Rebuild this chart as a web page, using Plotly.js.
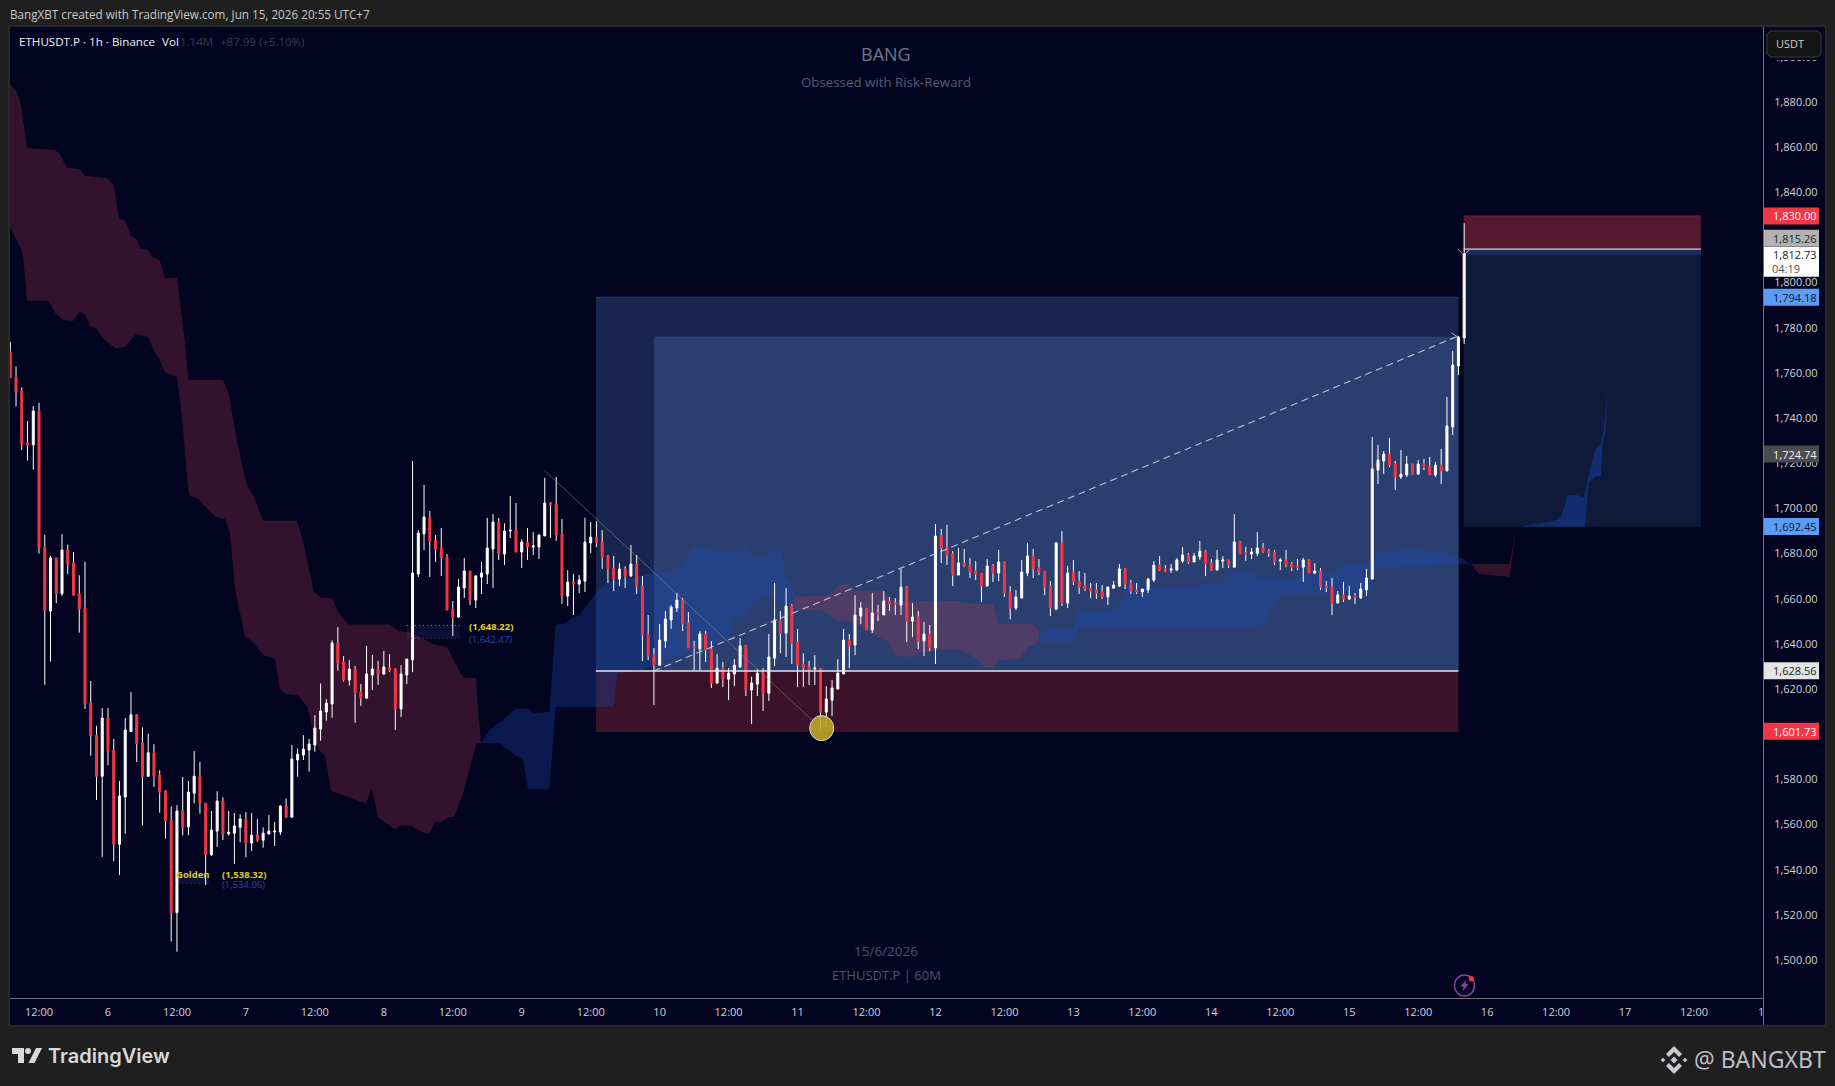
<!DOCTYPE html>
<html>
<head>
<meta charset="utf-8">
<script src="https://cdn.plot.ly/plotly-3.0.1.min.js"></script>
<style>html,body{margin:0;padding:0;background:#1f1f1f;overflow:hidden}#chart{width:1835px;height:1086px}</style>
</head>
<body>
<div id="chart"></div>
<script>
// Hours are counted from 5 June 12:00; the first candle is at hour -5.
const firstHour = -5;
const direction = ["ddddu","ddudu","ddddd","duddu","uuddu","ddddu","duudd","uuduu","ududu","uuudu","uuuuu","uuddu","dduud","udduu","uuudd","ddduu","duuuu","duudu","duuud","ddudu","uuddd","dudud","ddduu","uuddd","uddud","uuudu","uduud","udddd","uduuu","uduud","ududd","ududu","duddd","udddd","ududd","uuudd","ddudu","ddddd","duuud","dduuu","dduuu","duudd","uudud","duudd","duddd","ududd","dudud","uuuuu","dduud","uddud","uuuu"].join("");
const highs = [1773.7,1762.9,1753.6,1738.7,1745.4,
1746.8,1688.3,1679,1678.1,1688.6,1683.9,1680.7,1670.4,1676.5,1623.6,
1603.7,1611.6,1611.6,1597.9,1579.3,1607.2,1618.7,1608.9,1603.1,1600.2,
1595.6,1584,1575.3,1568,1568.6,1581.1,1579.3,1592.6,1587.7,1569.5,
1566,1574.8,1572.1,1566,1565.1,1564.6,1565.5,1565.1,1562.4,1558.8,
1564.2,1561.1,1568.6,1571.6,1595.2,1593.7,1599.6,1597.9,1608.5,1622.5,
1615.6,1641.6,1647.5,1634.6,1632.9,1630.2,1622.2,1639.1,1635.1,1632.4,
1636.9,1635.5,1629.3,1630.6,1633.3,1721,1690.4,1710.4,1698.9,1688.2,
1691.3,1679.8,1659,1668.7,1678,1672.3,1670.5,1676.3,1695.8,1697.5,
1695.8,1693.4,1705.5,1702.4,1686.3,1691.3,1689.5,1688.7,1713.5,1702.8,
1713.9,1695.3,1672.7,1671,1670.5,1695.8,1694,1694.4,1690.4,1679.4,
1678.9,1675.8,1674.3,1683.8,1679.4,1670,1652.8,1638.2,1648.8,1654.6,
1657.2,1662.5,1660.3,1654.1,1641.3,1645.7,1645.7,1641.3,1635.5,1632,
1629.3,1633.3,1642.6,1639.5,1625.5,1628.9,1629.3,1644.4,1667,1654.6,
1664.7,1657.7,1646.6,1635.9,1632.4,1635.1,1629.3,1621.3,1624,1633.3,
1646.6,1644.4,1661.6,1658.6,1655.9,1662.5,1657.2,1663.4,1660.8,1660.3,
1673.2,1665.6,1658.1,1654.6,1649.7,1648.4,1693.1,1690.9,1692.7,1681.1,
1682.5,1682,1678,1676.7,1671.4,1677.6,1675.4,1681.6,1676.6,1665.6,
1663.9,1677.1,1684.7,1682,1677.6,1672.3,1667.8,1685.1,1690,1674.5,
1677.1,1672.3,1671.4,1667,1667,1666.1,1665.2,1667.8,1675.4,1673.6,
1668.3,1667,1664.3,1669.2,1676.7,1678.9,1674.9,1675.4,1678,1682.9,
1680.3,1680.3,1685.6,1681.6,1677.6,1681.6,1678.9,1677.2,1697.5,1685.6,
1683,1682.5,1689.6,1684.7,1682,1681.6,1678,1681.6,1676.3,1677.6,
1678,1677.6,1675.8,1673.6,1667.8,1669.2,1663.4,1667.4,1665.7,1662.5,
1667,1673.2,1731.6,1728.1,1725.4,1731.2,1721,1725.9,1723.2,1719.7,
1721.4,1721.9,1722.8,1720.6,1726.3,1749.3,1769.7,1776.4,1826.3];
const bodyTops = [1769.3,1758.1,1752,1729.1,1743.1,
1743.1,1682.8,1678.1,1678.1,1681.6,1681.6,1675.8,1662.2,1655.9,1613.8,
1599.6,1607.2,1607.2,1593,1572.7,1601.9,1608.6,1608.6,1596.1,1591.8,
1591.8,1581.9,1574.8,1561.8,1566,1566,1574.4,1581.4,1581.4,1569.5,
1557.6,1570.4,1570.4,1556.6,1559.4,1562.5,1562.5,1555.3,1555.4,1556.2,
1557.1,1557.1,1568.2,1568.2,1589,1591.2,1593.4,1595.7,1602.7,1610.3,
1613.8,1640.4,1640.4,1632,1628.9,1628.9,1618.7,1626.7,1628.9,1628.9,
1629.8,1629.8,1628.9,1626.7,1633.3,1671.4,1689.1,1696.2,1696.2,1686,
1682.5,1678.5,1655.5,1665.2,1672.3,1672.3,1670.1,1671.4,1682.5,1694,
1694,1690,1690.4,1690.4,1685.1,1685.1,1683.4,1688.2,1702.4,1702.4,
1701.9,1688.7,1667.4,1667.4,1668.3,1685.1,1687.3,1687.3,1685.1,1678.9,
1673.6,1673.2,1673.2,1675.4,1675.4,1665.6,1644.4,1635.1,1641.7,1651,
1656.3,1659.4,1659.4,1649.3,1638.8,1644.4,1644.4,1637.7,1629.3,1629.3,
1627.1,1630.6,1639.1,1639,1622.7,1627.1,1627.1,1634.2,1650.6,1650.6,
1656.8,1656.8,1640.8,1631.1,1629.8,1629.3,1629.3,1615.6,1620.5,1627.1,
1641.7,1641.7,1652.8,1655.9,1655.9,1653.7,1653.7,1659,1659,1658.1,
1665.2,1665.2,1651.9,1651.9,1644.4,1644.4,1687.8,1687.8,1682.9,1679.8,
1675.8,1675.8,1674.9,1672.3,1671.4,1674.5,1674.5,1676.3,1676.3,1663,
1660.8,1671.8,1678.9,1678.9,1673.6,1672.3,1665.6,1684.7,1684.7,1671.4,
1671.8,1667.8,1665.6,1664.7,1663.9,1663,1665.2,1666.1,1673.2,1673.2,
1667,1663.9,1664.3,1668.7,1674.9,1674.9,1673.2,1673.2,1677.2,1679.4,
1679.4,1678.9,1681.1,1681.1,1675.8,1677.2,1677.2,1677.2,1685.1,1685.1,
1680.3,1680.7,1682.5,1682.5,1681.2,1680.7,1677.2,1677.2,1675.4,1674.5,
1677.2,1677.2,1672.3,1672.3,1665.6,1665.2,1661.7,1661.7,1661.2,1661.2,
1664.3,1669.2,1717.5,1721.4,1724.1,1724.1,1719.7,1715.2,1719.7,1719.7,
1719.7,1719.7,1718.8,1719.2,1719.2,1736.5,1763.5,1775.9,1812.73];
const bodyBottoms = [1757.8,1751.5,1728.4,1728,1728.2,
1682.7,1654.6,1654.6,1662.3,1662.2,1675.3,1661.6,1655.5,1613.5,1599.3,
1581.4,1581.4,1592.6,1551.3,1551.3,1572.2,1601.2,1595.8,1581.4,1581.4,
1581.4,1574.4,1561.8,1521,1521,1558.8,1559,1573.9,1569.4,1546.8,
1546.6,1557.1,1555.9,1555.9,1556.2,1558.8,1551.8,1551.8,1553.1,1553.1,
1555.8,1556.7,1556.7,1563.3,1563.3,1588.6,1590.8,1593,1595.2,1602.3,
1609.8,1613.4,1631.5,1624,1624,1618.2,1616,1616,1626.2,1626.7,
1626.7,1628.4,1611.2,1611.2,1626.2,1632.9,1671,1688.7,1685.6,1682,
1678,1655,1651.9,1651.9,1664.8,1659.4,1659.4,1669.6,1671,1682,
1680,1679.8,1690,1680.7,1680.7,1682.9,1682.9,1682.9,1687.8,1701.9,
1688.2,1661.2,1661.2,1666.5,1666.5,1667.8,1684.7,1684.7,1678.5,1673.2,
1668.7,1668.7,1670.1,1670.1,1665.2,1643.9,1634.6,1630.6,1630.6,1641.3,
1650.6,1655.9,1648.8,1638.2,1638.2,1637.7,1637.3,1622.7,1622.7,1624.4,
1624.4,1626.7,1629.8,1619.6,1619.6,1622.2,1618.2,1618.2,1633.7,1644.8,
1644.8,1640.4,1630.6,1629.3,1628.4,1628.9,1609.8,1609.8,1615.1,1620,
1626.7,1639,1639.5,1652.3,1646.2,1646.2,1653.2,1652.8,1657.7,1657.7,
1657.2,1650.1,1650.1,1641.3,1641.3,1638.2,1638.2,1682.5,1679.4,1670.5,
1670.5,1674.5,1671.8,1670.9,1665.6,1665.6,1671.4,1671.4,1662.5,1655.9,
1655.9,1660.3,1671.4,1673.2,1671.8,1665.2,1655.9,1655.4,1658.1,1658.1,
1667.4,1665.2,1664.3,1663.4,1662.5,1660.8,1660.8,1664.7,1665.6,1666.5,
1663.4,1663,1663,1663.9,1668.3,1672.7,1672.3,1672.7,1672.7,1676.7,
1676.3,1676.3,1678.5,1675.4,1672.7,1672.7,1676.7,1674.9,1674,1679.8,
1679.8,1679.8,1680.1,1680.7,1680.3,1676.3,1676.7,1674.9,1674,1674,
1674,1671.4,1671.4,1665.2,1664.8,1658.1,1658.1,1659.9,1659.9,1660.8,
1660.4,1663.9,1668.7,1717,1721,1719.2,1713.9,1713.9,1714.8,1715.2,
1715.2,1718.3,1714.8,1714.8,1716.6,1716.6,1736.1,1763.1,1775.5];
const lows = [1757.8,1745.2,1725.9,1721.2,1717.2,
1680,1621.9,1632.2,1658.1,1661.3,1670.9,1661.6,1645,1611.2,1590.5,
1570.9,1545.7,1586.3,1543.8,1537.7,1556,1601.2,1587.7,1559.5,1581.1,
1576.7,1565.3,1553.8,1508.2,1503.7,1555.2,1555.3,1569.4,1564.8,1533.3,
1546.1,1550.1,1553.1,1555.2,1542.6,1552.2,1545.5,1548.3,1552.4,1549.8,
1555.8,1550.5,1555.4,1562.9,1562.9,1581.2,1588.6,1583.4,1592.3,1597.1,
1606,1607.3,1628.1,1623.3,1621.5,1605.1,1612.6,1615.6,1619.6,1621.8,
1626.2,1627.5,1601.9,1607.6,1622.2,1627.5,1669.6,1681.6,1669.6,1676.3,
1670.1,1655,1643.5,1651.5,1660.3,1657.2,1655.9,1662.1,1666.5,1664.8,
1677.2,1674.9,1686.9,1680.7,1673.6,1677.2,1679.4,1677.6,1687.8,1686.9,
1685.6,1657.7,1656.8,1652.8,1662.5,1663,1680.2,1682.9,1673.2,1667,
1663.4,1665.6,1664.8,1669.6,1662.1,1632.4,1632.9,1612.9,1630.6,1638.2,
1646.6,1654.1,1645.7,1638.2,1628.4,1628.4,1632,1620.5,1622.2,1620.9,
1615.1,1621.3,1629.3,1616.9,1604.5,1616.9,1610.3,1614.7,1630.2,1635.9,
1634.2,1631.1,1620.9,1620.9,1621.8,1621.8,1601.9,1603.2,1608,1620,
1626.7,1629.3,1635.1,1648.8,1646.2,1644.8,1650.1,1652.8,1654.6,1652.8,
1652.8,1640.8,1643,1637.7,1634.6,1636.8,1631.1,1675.8,1674.9,1665.6,
1670.5,1674,1669.2,1668.3,1658.6,1665.6,1667.4,1667.8,1660.8,1651,
1655,1660.3,1670,1669.2,1670.5,1661.6,1652.3,1655,1656.8,1655.9,
1666.1,1662.1,1663.4,1660.3,1659.9,1659.9,1657.2,1664.7,1665.2,1664.3,
1662.1,1662.1,1660.8,1662.5,1667.4,1672.3,1671.8,1671.4,1672.3,1675.8,
1675.4,1676.3,1677.2,1670,1672.3,1672.7,1673.6,1673.6,1674,1679.8,
1676.7,1677.6,1678.9,1680.3,1678.5,1674.9,1672.7,1674,1672.3,1672.7,
1667.4,1671.4,1671,1663.9,1663,1652.8,1658.1,1658.6,1659.4,1657.7,
1659.9,1661.2,1668.7,1710.8,1715.2,1718.3,1708.2,1713,1713.9,1714.8,
1714.8,1717,1714.8,1713.9,1710.8,1716.6,1732.5,1759.1,1772.8];

// Ichimoku cloud bands: [hour, price] read along each edge
const redCloud1Upper = [[-5.05,1888],[-4,1885.3],[-3.2,1879.6],[-2.1,1859.6],[2.8,1858.7],[3.5,1857.4],[4.9,1850.8],[7,1850.3],[8,1847.2],[11.8,1846.3],[13,1843.2],[13.9,1828.2],[14.9,1827.7],[16,1820.7],[16.9,1819.3],[17.7,1814.9],[19,1814.5],[19.7,1811.4],[21,1810],[21.9,1802],[24,1802],[25.2,1777.7],[26,1756.9],[32,1756.9],[33,1751.1],[34.4,1730.3],[36,1711.7],[37.6,1703.7],[39,1694.6],[44.9,1694.6],[46.1,1683.8],[47.8,1663.2],[49.1,1660.3],[51,1660.3],[52,1654.1],[53.8,1648.6],[61,1648.6],[62.6,1645.7],[64.7,1645],[67.2,1641.7],[68.9,1639.5],[71,1638.8],[73.4,1626.7],[74.1,1624.9],[76,1624.9],[76.9,1596.1]];
const redCloud1Lower = [[-5.05,1824.6],[-2.8,1813.1],[-2.1,1791.9],[1.7,1791.9],[2.8,1786.5],[4.2,1783.4],[5.9,1783],[7,1787],[8,1786.1],[9,1780.3],[9.9,1779.9],[11.1,1775.5],[13.2,1771],[14.9,1771.5],[16.9,1777.2],[19,1775.9],[19.7,1771.5],[21,1765.7],[21.9,1760.4],[24,1758.2],[24.9,1740.5],[25.6,1718.3],[26.1,1705.9],[27.7,1704.2],[30.7,1696.2],[32.4,1695.3],[33.2,1689.6],[34.1,1664.8],[35.8,1643.5],[37.2,1640.8],[39,1635.1],[41.1,1633.3],[41.9,1620],[42.9,1617.8],[45.1,1617.4],[46.8,1611.9],[47.5,1602.7],[48.5,1593.7],[49.8,1590.3],[50.8,1575],[56.9,1569.3],[57.9,1576.2],[59,1563.3],[61.9,1557.8],[63,1559.8],[64.7,1559.4],[67.2,1556],[67.9,1556],[68.9,1561.1],[69.9,1561],[71.3,1563.3],[72.2,1563.3],[73.7,1573.1],[75.1,1586.4],[76.1,1596.1],[76.9,1596.1]];
const blueCloud1Upper = [[76.9,1596.1],[78.5,1601.9],[80.9,1606.9],[83,1611.2],[85.1,1611.4],[86.1,1609.4],[88.8,1609.8],[89.9,1648.4],[91.5,1649.2],[92.9,1651.9],[94.1,1652.8],[95.3,1657.2],[97.1,1663],[98.8,1667],[100.2,1667.9],[103.3,1669.2],[106.8,1671.4],[108.6,1671.8],[110.3,1673.2],[112,1673.6],[113.4,1681.6],[114.8,1683.8],[116.9,1681.1],[122,1680.7],[123,1682.9],[124,1678.5],[126.1,1678.5],[127.5,1681.1],[129.1,1680.7],[130,1668.3],[131.1,1667],[131.4,1661.6]];
const blueCloud1Lower = [[76.9,1596.1],[80,1596.1],[83.3,1589.9],[84.2,1589.5],[85.1,1575.5],[88.8,1575.5],[89.9,1612.2],[99.9,1612.2],[100.7,1627.1],[105.2,1628.4],[108.9,1632.9],[113.4,1636],[118.9,1640.4],[120.3,1643.2],[120.7,1651.5],[123,1652.8],[124,1657.2],[125.1,1659.9],[127.2,1660.9],[131.4,1656.5]];
const redCloud2Upper = [[131.4,1661.6],[132,1660.9],[137.4,1661.3],[139.2,1666],[140.9,1666.9],[142,1663.6],[147.1,1663.6],[148.2,1659.4],[151.5,1659],[159.9,1659],[160.9,1658.1],[166,1657.7],[167,1648.8],[172.9,1648.8],[174,1646.1],[174.1,1641.7]];
const redCloud2Lower = [[131.4,1656.5],[132,1655],[136.1,1655],[138.8,1650.6],[141.6,1649.7],[145.8,1643.2],[147.8,1641],[148.9,1635.1],[151.9,1634.2],[153.3,1636],[156.8,1637.3],[160.2,1637.7],[163,1633.7],[164.7,1629.3],[166,1629.3],[167,1632.9],[170.5,1633.3],[172.2,1638.8],[174,1641]];
const blueCloud2Upper = [[174.1,1643.2],[175.5,1647],[179.7,1645.8],[180.8,1654.6],[187.2,1655],[188.6,1659.4],[189.5,1667.9],[190.3,1668.3],[192.8,1664.8],[202,1665.2],[203.2,1666.5],[206,1667],[207,1671.5],[211.2,1671.8],[211.9,1669.2],[218.9,1668.7],[219.9,1670.5],[225.5,1671.4],[227.2,1675.4],[229.3,1675.8],[232.1,1675.8],[233,1680.7],[235.9,1680.7],[236.8,1682],[240.8,1682.5],[242,1680.3],[243.7,1681.6],[245.8,1679],[247.6,1678.1],[249.1,1675.4]];
const blueCloud2Lower = [[174.1,1641],[179.9,1641],[180.9,1647.5],[212.1,1647.5],[213.6,1649.7],[215,1658.1],[216.2,1660.8],[218.2,1662.1],[229.8,1662.1],[231.6,1662.5],[232.4,1669.6],[233,1674.1],[245.1,1674.5],[246.9,1675.3],[249.1,1675.3]];
const redCloud3Upper = [[249.1,1675.4],[255.9,1675.4],[257,1690.4]];
const redCloud3Lower = [[249.1,1675.4],[250.6,1671],[252.7,1670.5],[255.9,1669.6],[257,1690.4]];
const blueCloud3Upper = [[258.4,1692.2],[261.8,1693.7],[264.3,1694.9],[265,1697.1],[266,1705.9],[267.6,1705.9],[268.8,1704.7],[270.7,1725.9],[271.8,1729],[272.2,1733.4],[272.7,1745],[272.9,1753.3]];
const blueCloud3Lower = [[258.4,1691.9],[269,1691.9],[269.7,1711.3],[270.7,1713.9],[271.8,1714.8],[272.1,1729],[272.6,1733.4],[272.85,1745],[272.9,1753.3]];

const yTickValues = [1500,1520,1540,1560,1580,1600,1620,1640,1660,1680,1700,1720,1740,1760,1780,1800,1820,1840,1860,1880,1900];
const xTickHours = [0,12,24,36,48,60,72,84,96,108,120,132,144,156,168,180,192,204,216,228,240,252,264,276,288];
const xTickLabels = ["12:00","6","12:00","7","12:00","8","12:00","9","12:00","10","12:00","11","12:00","12","12:00","13","12:00","14","12:00","15","12:00","16","12:00","17","12:00"];

// Price tags shown on the axis
const entryLevel = 1628.56, stopLevel = 1601.73, outerTop = 1794.18;
const shortTop = 1830, shortEntry = 1815.26, shortFill = 1812.73, shortBottom = 1692.45, midLevel = 1724.74;
const yellowHigh = 1648.22, blueLow = 1642.47, goldenHigh = 1538.32, goldenLow = 1534.06;
// Zone edges
const zoneEntry = 1628, zoneStop = 1601, zoneOuterTop = 1793.5, zoneInnerTop = 1776;
const zoneShortTop = 1829.5, zoneShortEntry = 1814.8, zoneShortFill = 1812.3, zoneShortBottom = 1691.9;

// ------------ geometry helpers (page pixels to paper fractions)
const L=10,T=27,W=1753,H=971,YMAX=1913.2,YMIN=1483.2,XMIN=-5.05,XMAX=300;
const fx=p=>(p-L)/W, fy=p=>1-(p-T)/H, py=v=>T+(YMAX-v)*H/(YMAX-YMIN);
const fmt=v=>v.toLocaleString('en-US',{minimumFractionDigits:2,maximumFractionDigits:2});
const bg='#03041f';
const F='"Open Sans", sans-serif';

const hours = highs.map((_,i)=>firstHour+i);
const ups=[],downs=[];
hours.forEach((_,i)=>{(direction[i]==='u'?ups:downs).push(i);});
const pick=(a,idx)=>idx.map(i=>a[i]);

function band(up,lo,color){
  const pts=up.concat(lo.slice().reverse());
  return {type:'scatter',mode:'lines',x:pts.map(p=>p[0]),y:pts.map(p=>p[1]),fill:'toself',fillcolor:color,line:{width:0},hoverinfo:'skip',showlegend:false,xaxis:'x',yaxis:'y'};
}
const RED='rgba(175,58,85,0.28)',BLUE='rgba(25,75,185,0.32)';
const candleBase={type:'candlestick',xaxis:'x2',yaxis:'y2',hoverinfo:'skip',showlegend:false};
const traces=[
  band(redCloud1Upper,redCloud1Lower,RED),
  band(blueCloud1Upper,blueCloud1Lower,BLUE),
  band(redCloud2Upper,redCloud2Lower,RED),
  band(blueCloud2Upper,blueCloud2Lower,BLUE),
  band(redCloud3Upper,redCloud3Lower,RED),
  band(blueCloud3Upper,blueCloud3Lower,'rgba(25,75,185,0.42)'),
  Object.assign({},candleBase,{ // white wicks of the falling candles
    x:pick(hours,downs),open:downs.map(i=>(bodyTops[i]+bodyBottoms[i])/2),close:downs.map(i=>(bodyTops[i]+bodyBottoms[i])/2),
    high:pick(highs,downs),low:pick(lows,downs),
    increasing:{line:{color:'#ffffff',width:1},fillcolor:'#ffffff'},decreasing:{line:{color:'#ffffff',width:1},fillcolor:'#ffffff'}}),
  Object.assign({},candleBase,{ // rising candles
    x:pick(hours,ups),open:pick(bodyBottoms,ups),close:pick(bodyTops,ups),high:pick(highs,ups),low:pick(lows,ups),
    increasing:{line:{color:'#ffffff',width:1},fillcolor:'#ffffff'},decreasing:{line:{color:'#ffffff',width:1},fillcolor:'#ffffff'}}),
  Object.assign({},candleBase,{ // red bodies
    x:pick(hours,downs),open:pick(bodyTops,downs),close:pick(bodyBottoms,downs),high:pick(bodyTops,downs),low:pick(bodyBottoms,downs),
    increasing:{line:{color:'#f23645',width:1},fillcolor:'#f23645'},decreasing:{line:{color:'#f23645',width:1},fillcolor:'#f23645'}})
];

// ------------ shapes
const shapes=[];
const prect=(x0,y0,x1,y1,fill,layer,line)=>shapes.push({type:'rect',xref:'paper',yref:'paper',x0:fx(x0),x1:fx(x1),y0:fy(y1),y1:fy(y0),fillcolor:fill,line:line||{width:0},layer:layer||'below'});
const drect=(h0,v0,h1,v1,fill,line)=>shapes.push({type:'rect',xref:'x',yref:'y',x0:h0,x1:h1,y0:v0,y1:v1,fillcolor:fill,line:line||{width:0},layer:'below'});
const dline=(h0,v0,h1,v1,color,width,dash,layer)=>shapes.push({type:'line',xref:'x',yref:'y',x0:h0,x1:h1,y0:v0,y1:v1,line:{color,width,dash:dash||'solid'},layer:layer||'above'});
const poly=(pts,fill,layer)=>shapes.push({type:'path',xref:'paper',yref:'paper',path:'M'+pts.map(p=>fx(p[0])+' '+fy(p[1])).join('L')+'Z',fillcolor:fill,line:{width:0},layer:layer||'above'});
const pcircle=(cx,cy,rx,ry,fill,line,layer)=>shapes.push({type:'circle',xref:'paper',yref:'paper',x0:fx(cx-rx),x1:fx(cx+rx),y0:fy(cy+ry),y1:fy(cy-ry),fillcolor:fill,line:line||{width:0},layer:layer||'above'});

// panels around the plot
prect(10,998,1825,1025,bg);
prect(1763,27,1825,1025,bg);
prect(9,26,1826,1026,'rgba(0,0,0,0)','below',{color:'#353535',width:1});
prect(10,998,1763,999,'#6f7080');
prect(1763,27,1764,1025,'#6f7080');

// long setup zones
drect(96.9,zoneEntry,247,zoneOuterTop,'#18264f');
drect(107,zoneEntry,247,zoneInnerTop,'#2a3f70');
drect(96.9,zoneStop,247,zoneEntry,'#3b1229');
dline(96.9,zoneOuterTop,247,zoneOuterTop,'#24406e',1,'solid','below');
// short setup zones
drect(247.9,zoneShortEntry,289.2,zoneShortTop,'#55192f');
dline(247.9,zoneShortTop,289.2,zoneShortTop,'#7d1f30',1,'solid','below');
drect(247.9,zoneShortBottom,289.2,zoneShortEntry,'#0f1939');
drect(247.9,zoneShortFill,289.2,zoneShortEntry,'#1a2a60');

dline(96.9,zoneEntry,247,zoneEntry,'#dfe3ee',1.5);
dline(247.9,zoneShortEntry,289.2,zoneShortEntry,'#cfd0d8',1.2);
// dashed and thin diagonals
dline(107,1628,247,1776.4,'rgba(215,215,215,0.85)',1.1,'7px,4.5px');
dline(87.9,1717,134.5,1606.3,'rgba(175,175,175,0.42)',1);
dline(245.8,1777.7,246.9,1775.9,'rgba(205,205,205,0.8)',1);
dline(246.9,1814.9,247.7,1812.7,'rgba(205,205,205,0.8)',1);
dline(248.2,1812.7,248.9,1814.5,'rgba(205,205,205,0.8)',1);
// small level tags
drect(64,blueLow,73.2,yellowHigh,'rgba(30,50,120,0.28)');
drect(23.6,goldenLow,29.6,goldenHigh,'rgba(30,50,120,0.28)');
dline(64,yellowHigh,73.2,yellowHigh,'#b9aa2c',1,'1px,3px');
dline(64,blueLow,73.2,blueLow,'#2a47a0',1,'1px,3px');
dline(23.6,goldenLow,29.6,goldenLow,'#2a47a0',1,'1px,3px');
// gold pivot marker
shapes.push({type:'circle',xref:'x',yref:'y',xsizemode:'pixel',ysizemode:'pixel',xanchor:136.2,yanchor:1602.7,x0:-12,x1:12,y0:-12.5,y1:12.5,fillcolor:'rgba(190,166,38,0.9)',line:{color:'#d8d8d8',width:1},layer:'above'});

// USDT button
prect(1764,57,1819,60,bg,'above');
poly([[1770,31],[1818,31],[1821,34],[1821,54],[1818,57],[1770,57],[1767,54],[1767,34]],'#131313');
shapes[shapes.length-1].line={color:'#383838',width:1};

// lightning badge
pcircle(1464.5,985.5,10,10.5,'rgba(0,0,0,0)',{color:'#8c3fa6',width:1.5});
poly([[1466.5,979.5],[1460.5,986.5],[1463.5,986.5],[1462.5,991.5],[1468.5,984],[1465.5,984]],'#8c3fa6');
pcircle(1471.4,978.7,2.6,2.6,'#f23645');

// TradingView mark
poly([[12,1048],[24,1048],[24,1063],[18,1063],[18,1054],[12,1054]],'#d8d8d8');
pcircle(28,1051,3,3,'#d8d8d8');
poly([[36,1048],[42,1048],[34.5,1063],[28.5,1063]],'#d8d8d8');
// Binance mark
const bn='#c9cad0';
poly([[1674,1046],[1682,1054],[1679,1057],[1674,1052],[1669,1057],[1666,1054]],bn);
poly([[1674,1074],[1682,1066],[1679,1063],[1674,1068],[1669,1063],[1666,1066]],bn);
poly([[1674,1056.5],[1677.5,1060],[1674,1063.5],[1670.5,1060]],bn);
poly([[1663,1057.7],[1665.3,1060],[1663,1062.3],[1660.7,1060]],bn);
poly([[1685,1057.7],[1687.3,1060],[1685,1062.3],[1682.7,1060]],bn);

// ------------ price tags on the axis
const tags=[
 {v:shortTop,fill:'#f23645',text:'#ffffff',dy:1},
 {v:shortEntry,fill:'#b2b2b2',text:'#1e1e1e',dy:-10},
 {v:outerTop,fill:'#5b9cf6',text:'#10182b',dy:1.5},
 {v:midLevel,fill:'#4b4b4f',text:'#f0f0f0',dy:1.5},
 {v:shortBottom,fill:'#5b9cf6',text:'#10182b',dy:1},
 {v:entryLevel,fill:'#e4e4e4',text:'#1e1e1e',dy:1},
 {v:stopLevel,fill:'#f23645',text:'#ffffff',dy:1}
];
const notes=[];
const note=(text,x,y,o)=>notes.push(Object.assign({text,xref:'paper',yref:'paper',x:fx(x),y:fy(y),showarrow:false,xanchor:'left',yanchor:'middle',borderpad:0,font:{family:F,size:11,color:'#c9c9cf'}},o&&o.anchor?{xanchor:o.anchor}:{},o&&o.font?{font:Object.assign({family:F,size:11,color:'#c9c9cf'},o.font)}:{}));
tags.forEach(t=>{
  const c=py(t.v)+t.dy;
  prect(1764,c-8.5,1819,c+8.5,t.fill,'above');
  note(fmt(t.v),1772,c,{font:{color:t.text}});
});
prect(1764,247,1819,276.7,'#ffffff','above');
note(fmt(shortFill),1772,255,{font:{color:'#1e1e1e'}});
note('04:19',1771,268,{font:{color:'#555555'}});

// ------------ texts
note('BangXBT created with TradingView.com, Jun 15, 2026 20:55 UTC+7',9,14,{font:{color:'#c9c9c9',size:11.7}});
note('ETHUSDT.P · 1h · Binance',17.5,42,{font:{color:'#f0f0f0',size:11.6}});
note('Vol',161,42,{font:{color:'#f0f0f0',size:11.6}});
note('1.14M',179,42,{font:{color:'#3a3b4e',size:11.5}});
note('+87.99 (+5.10%)',219,42,{font:{color:'#3a3b4e',size:11.5}});
note('USDT',1790,44,{anchor:'center',font:{color:'#cfcfcf'}});
note('BANG',886,54,{anchor:'center',font:{size:18,color:'#70748a'}});
note('Obsessed with Risk-Reward',886,82,{anchor:'center',font:{size:13.3,color:'#565b72'}});
note('15/6/2026',886,951,{anchor:'center',font:{size:13.5,color:'#4f5468'}});
note('ETHUSDT.P | 60M',886,975,{anchor:'center',font:{size:13,color:'#4f5468'}});
note('<b>Golden</b>',175,874.5,{font:{size:9.5,color:'#d9c92f'}});
note('<b>('+fmt(goldenHigh)+')</b>',221,874.5,{font:{size:9.5,color:'#d9c92f'}});
note('('+fmt(goldenLow)+')',221,884,{font:{size:9.5,color:'#2a47a0'}});
note('<b>('+fmt(yellowHigh)+')</b>',468,626.7,{font:{size:9.5,color:'#e0cf30'}});
note('('+fmt(blueLow)+')',468,639.4,{font:{size:9.5,color:'#2a47a0'}});
note('1',1757,1011,{font:{color:'#d1d4dc'}});
notes.push({text:'TradingView',xref:'paper',yref:'paper',x:fx(46),y:fy(1056),showarrow:false,xanchor:'left',yanchor:'middle',font:{family:'Inter, sans-serif',size:20,weight:600,color:'#d8d8d8'}});
notes.push({text:'@ BANGXBT',xref:'paper',yref:'paper',x:fx(1692),y:fy(1059),showarrow:false,xanchor:'left',yanchor:'middle',font:{family:'"Noto Sans", sans-serif',size:23,color:'#bcbdc6'}});

const layout={
  width:1835,height:1086,
  margin:{l:10,r:72,t:27,b:88,pad:0},
  paper_bgcolor:'#1f1f1f',plot_bgcolor:bg,
  showlegend:false,hovermode:false,dragmode:false,boxgap:0.65,boxgroupgap:0,boxmode:'overlay',
  xaxis:{type:'linear',range:[XMIN,XMAX],showgrid:false,zeroline:false,showline:false,tickmode:'array',tickvals:xTickHours,ticktext:xTickLabels,ticks:'outside',ticklen:4,tickcolor:'rgba(0,0,0,0)',tickfont:{family:F,size:11,color:'#d1d4dc'},rangeslider:{visible:false},fixedrange:true},
  yaxis:{type:'linear',side:'right',range:[YMIN,YMAX],showgrid:false,zeroline:false,showline:false,tickmode:'array',tickvals:yTickValues,ticktext:yTickValues.map(fmt),ticks:'outside',ticklen:8,tickcolor:'rgba(0,0,0,0)',tickfont:{family:F,size:11,color:'#d1d4dc'},fixedrange:true},
  xaxis2:{type:'linear',overlaying:'x',range:[XMIN,XMAX],visible:false,rangeslider:{visible:false},fixedrange:true,anchor:'y2'},
  yaxis2:{type:'linear',overlaying:'y',side:'right',range:[YMIN,YMAX],visible:false,fixedrange:true,anchor:'x2'},
  shapes,annotations:notes
};
Plotly.newPlot('chart',traces,layout,{displayModeBar:false,staticPlot:true});
</script>
</body>
</html>
